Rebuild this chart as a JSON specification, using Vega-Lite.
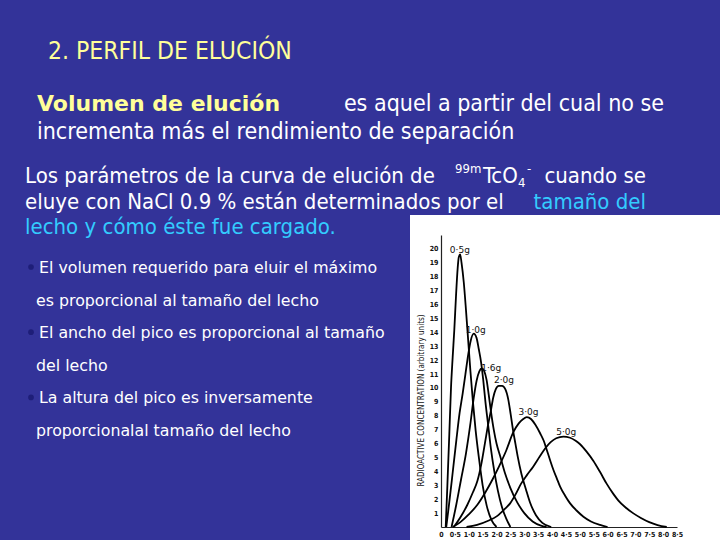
{
  "$schema": "https://vega.github.io/schema/vega-lite/v6.json",
  "background": "#333399",
  "padding": 0,
  "spacing": 0,
  "bounds": "flush",
  "config": {"view": {"stroke": null}, "axis": {"labelOverlap": false, "labelBound": false, "labelFlush": false}, "concat": {"spacing": 0}},
  "datasets": {
    "curves": [
      {"bed":"0.5g","v":0.17,"c":0},{"bed":"0.5g","v":0.23,"c":3},{"bed":"0.5g","v":0.3,"c":6.7},{"bed":"0.5g","v":0.36,"c":10.0},{"bed":"0.5g","v":0.42,"c":12.2},{"bed":"0.5g","v":0.48,"c":14.2},{"bed":"0.5g","v":0.54,"c":16.6},{"bed":"0.5g","v":0.6,"c":18.6},{"bed":"0.5g","v":0.64,"c":19.4},{"bed":"0.5g","v":0.69,"c":19.6},{"bed":"0.5g","v":0.74,"c":19.0},{"bed":"0.5g","v":0.82,"c":17.6},{"bed":"0.5g","v":0.9,"c":15.6},{"bed":"0.5g","v":0.98,"c":13.4},{"bed":"0.5g","v":1.06,"c":11.2},{"bed":"0.5g","v":1.15,"c":9.0},{"bed":"0.5g","v":1.25,"c":6.9},{"bed":"0.5g","v":1.37,"c":4.9},{"bed":"0.5g","v":1.5,"c":3.0},{"bed":"0.5g","v":1.65,"c":1.5},{"bed":"0.5g","v":1.82,"c":0.5},{"bed":"0.5g","v":2.0,"c":0},
      {"bed":"1.0g","v":0.19,"c":0},{"bed":"1.0g","v":0.3,"c":1.8},{"bed":"1.0g","v":0.42,"c":3.9},{"bed":"1.0g","v":0.55,"c":6.2},{"bed":"1.0g","v":0.67,"c":8.2},{"bed":"1.0g","v":0.78,"c":9.6},{"bed":"1.0g","v":0.88,"c":11.0},{"bed":"1.0g","v":0.98,"c":12.4},{"bed":"1.0g","v":1.07,"c":13.4},{"bed":"1.0g","v":1.18,"c":13.9},{"bed":"1.0g","v":1.28,"c":13.6},{"bed":"1.0g","v":1.36,"c":12.8},{"bed":"1.0g","v":1.44,"c":11.9},{"bed":"1.0g","v":1.52,"c":10.6},{"bed":"1.0g","v":1.6,"c":9.0},{"bed":"1.0g","v":1.7,"c":7.3},{"bed":"1.0g","v":1.8,"c":5.6},{"bed":"1.0g","v":1.92,"c":4.0},{"bed":"1.0g","v":2.05,"c":2.6},{"bed":"1.0g","v":2.2,"c":1.4},{"bed":"1.0g","v":2.35,"c":0.6},{"bed":"1.0g","v":2.5,"c":0},
      {"bed":"1.6g","v":0.38,"c":0},{"bed":"1.6g","v":0.55,"c":1.6},{"bed":"1.6g","v":0.72,"c":3.4},{"bed":"1.6g","v":0.9,"c":5.3},{"bed":"1.6g","v":1.05,"c":7.3},{"bed":"1.6g","v":1.18,"c":9.3},{"bed":"1.6g","v":1.28,"c":10.5},{"bed":"1.6g","v":1.38,"c":11.2},{"bed":"1.6g","v":1.47,"c":11.4},{"bed":"1.6g","v":1.56,"c":11.2},{"bed":"1.6g","v":1.64,"c":10.6},{"bed":"1.6g","v":1.72,"c":9.5},{"bed":"1.6g","v":1.8,"c":8.3},{"bed":"1.6g","v":1.9,"c":7.0},{"bed":"1.6g","v":2.0,"c":6.0},{"bed":"1.6g","v":2.13,"c":5.1},{"bed":"1.6g","v":2.3,"c":3.9},{"bed":"1.6g","v":2.5,"c":2.8},{"bed":"1.6g","v":2.75,"c":1.75},{"bed":"1.6g","v":3.0,"c":1.0},{"bed":"1.6g","v":3.3,"c":0.4},{"bed":"1.6g","v":3.6,"c":0.1},{"bed":"1.6g","v":3.8,"c":0},
      {"bed":"2.0g","v":0.46,"c":0},{"bed":"2.0g","v":0.7,"c":0.7},{"bed":"2.0g","v":0.95,"c":1.6},{"bed":"2.0g","v":1.15,"c":2.5},{"bed":"2.0g","v":1.31,"c":3.3},{"bed":"2.0g","v":1.45,"c":4.5},{"bed":"2.0g","v":1.58,"c":6.0},{"bed":"2.0g","v":1.7,"c":7.4},{"bed":"2.0g","v":1.79,"c":8.3},{"bed":"2.0g","v":1.88,"c":9.3},{"bed":"2.0g","v":1.97,"c":9.9},{"bed":"2.0g","v":2.08,"c":10.15},{"bed":"2.0g","v":2.2,"c":10.15},{"bed":"2.0g","v":2.32,"c":9.9},{"bed":"2.0g","v":2.42,"c":9.2},{"bed":"2.0g","v":2.51,"c":8.1},{"bed":"2.0g","v":2.6,"c":6.9},{"bed":"2.0g","v":2.68,"c":6.0},{"bed":"2.0g","v":2.76,"c":5.1},{"bed":"2.0g","v":2.9,"c":3.8},{"bed":"2.0g","v":3.06,"c":2.7},{"bed":"2.0g","v":3.2,"c":1.8},{"bed":"2.0g","v":3.42,"c":0.85},{"bed":"2.0g","v":3.65,"c":0.3},{"bed":"2.0g","v":3.97,"c":0},
      {"bed":"3.0g","v":0.42,"c":0},{"bed":"3.0g","v":0.7,"c":0.35},{"bed":"3.0g","v":1.0,"c":0.9},{"bed":"3.0g","v":1.31,"c":1.6},{"bed":"3.0g","v":1.6,"c":2.5},{"bed":"3.0g","v":1.85,"c":3.4},{"bed":"3.0g","v":2.1,"c":4.4},{"bed":"3.0g","v":2.35,"c":5.5},{"bed":"3.0g","v":2.6,"c":6.8},{"bed":"3.0g","v":2.8,"c":7.45},{"bed":"3.0g","v":2.95,"c":7.75},{"bed":"3.0g","v":3.09,"c":7.9},{"bed":"3.0g","v":3.25,"c":7.75},{"bed":"3.0g","v":3.4,"c":7.35},{"bed":"3.0g","v":3.57,"c":6.74},{"bed":"3.0g","v":3.7,"c":6.2},{"bed":"3.0g","v":3.81,"c":5.54},{"bed":"3.0g","v":3.93,"c":4.8},{"bed":"3.0g","v":4.05,"c":4.1},{"bed":"3.0g","v":4.17,"c":3.5},{"bed":"3.0g","v":4.29,"c":2.9},{"bed":"3.0g","v":4.47,"c":2.25},{"bed":"3.0g","v":4.65,"c":1.7},{"bed":"3.0g","v":4.9,"c":1.15},{"bed":"3.0g","v":5.13,"c":0.74},{"bed":"3.0g","v":5.4,"c":0.4},{"bed":"3.0g","v":5.73,"c":0.15},{"bed":"3.0g","v":6.0,"c":0},
      {"bed":"5.0g","v":0.92,"c":0},{"bed":"5.0g","v":1.3,"c":0.15},{"bed":"5.0g","v":1.7,"c":0.45},{"bed":"5.0g","v":2.03,"c":0.8},{"bed":"5.0g","v":2.3,"c":1.3},{"bed":"5.0g","v":2.49,"c":1.7},{"bed":"5.0g","v":2.7,"c":2.4},{"bed":"5.0g","v":2.88,"c":3.1},{"bed":"5.0g","v":3.1,"c":3.75},{"bed":"5.0g","v":3.32,"c":4.34},{"bed":"5.0g","v":3.55,"c":5.05},{"bed":"5.0g","v":3.75,"c":5.65},{"bed":"5.0g","v":3.95,"c":6.1},{"bed":"5.0g","v":4.15,"c":6.38},{"bed":"5.0g","v":4.41,"c":6.5},{"bed":"5.0g","v":4.65,"c":6.42},{"bed":"5.0g","v":4.85,"c":6.2},{"bed":"5.0g","v":5.01,"c":5.95},{"bed":"5.0g","v":5.25,"c":5.4},{"bed":"5.0g","v":5.49,"c":4.75},{"bed":"5.0g","v":5.73,"c":3.95},{"bed":"5.0g","v":5.97,"c":3.1},{"bed":"5.0g","v":6.2,"c":2.4},{"bed":"5.0g","v":6.39,"c":1.9},{"bed":"5.0g","v":6.65,"c":1.4},{"bed":"5.0g","v":6.93,"c":0.98},{"bed":"5.0g","v":7.2,"c":0.65},{"bed":"5.0g","v":7.5,"c":0.35},{"bed":"5.0g","v":7.8,"c":0.14},{"bed":"5.0g","v":8.13,"c":0}
    ],
    "labels": [
      {"label":"0·5g","v":0.68,"c":19.95},
      {"label":"1·0g","v":1.25,"c":14.2},
      {"label":"1·6g","v":1.81,"c":11.45},
      {"label":"2·0g","v":2.27,"c":10.55},
      {"label":"3·0g","v":3.15,"c":8.25},
      {"label":"5·0g","v":4.51,"c":6.85}
    ]
  },
  "vconcat": [
    {
      "width": 720,
      "height": 215,
      "layer": [
        {
          "data": {"values": [{"line": 1, "text": "2. PERFIL DE ELUCIÓN"}]},
          "mark": {"type": "text", "align": "left", "baseline": "alphabetic", "font": "DejaVu Sans Condensed", "fontSize": 24.5, "color": "#FFFF99"},
          "encoding": {"x": {"value": 48}, "y": {"field": "line", "type": "quantitative", "scale": {"domain": [1, 2, 3, 4, 5, 6], "range": [59, 111, 139, 183, 209, 234], "nice": false, "zero": false}, "axis": null}, "text": {"field": "text"}}
        },
        {
          "data": {"values": [{"line": 2, "text": "Volumen de elución"}]},
          "mark": {"type": "text", "align": "left", "baseline": "alphabetic", "font": "DejaVu Sans", "fontWeight": "bold", "fontSize": 22, "color": "#FFFF99"},
          "encoding": {"x": {"value": 37}, "y": {"field": "line", "type": "quantitative"}, "text": {"field": "text"}}
        },
        {
          "data": {"values": [{"line": 2, "text": "es aquel a partir del cual no se"}]},
          "mark": {"type": "text", "align": "right", "baseline": "alphabetic", "font": "DejaVu Sans Condensed", "fontSize": 23, "color": "white"},
          "encoding": {"x": {"value": 664}, "y": {"field": "line", "type": "quantitative"}, "text": {"field": "text"}}
        },
        {
          "data": {"values": [{"line": 3, "text": "incrementa más el rendimiento de separación"}]},
          "mark": {"type": "text", "align": "left", "baseline": "alphabetic", "font": "DejaVu Sans Condensed", "fontSize": 23, "color": "white"},
          "encoding": {"x": {"value": 37}, "y": {"field": "line", "type": "quantitative"}, "text": {"field": "text"}}
        },
        {
          "data": {"values": [{"line": 4, "text": "Los parámetros de la curva de elución de"}, {"line": 5, "text": "eluye con NaCl 0.9 % están determinados por el"}]},
          "mark": {"type": "text", "align": "left", "baseline": "alphabetic", "font": "DejaVu Sans Condensed", "fontSize": 22, "color": "white"},
          "encoding": {"x": {"value": 25}, "y": {"field": "line", "type": "quantitative"}, "text": {"field": "text"}}
        },
        {
          "data": {"values": [{"line": 4, "text": "99m"}]},
          "mark": {"type": "text", "align": "left", "baseline": "alphabetic", "font": "DejaVu Sans Condensed", "fontSize": 13, "color": "white", "dy": -10},
          "encoding": {"x": {"value": 455}, "y": {"field": "line", "type": "quantitative"}, "text": {"field": "text"}}
        },
        {
          "data": {"values": [{"line": 4, "text": "TcO"}]},
          "mark": {"type": "text", "align": "left", "baseline": "alphabetic", "font": "DejaVu Sans Condensed", "fontSize": 22, "color": "white"},
          "encoding": {"x": {"value": 483}, "y": {"field": "line", "type": "quantitative"}, "text": {"field": "text"}}
        },
        {
          "data": {"values": [{"line": 4, "text": "4"}]},
          "mark": {"type": "text", "align": "left", "baseline": "alphabetic", "font": "DejaVu Sans Condensed", "fontSize": 13, "color": "white", "dy": 4},
          "encoding": {"x": {"value": 518}, "y": {"field": "line", "type": "quantitative"}, "text": {"field": "text"}}
        },
        {
          "data": {"values": [{"line": 4, "text": "-"}]},
          "mark": {"type": "text", "align": "left", "baseline": "alphabetic", "font": "DejaVu Sans Condensed", "fontSize": 13, "color": "white", "dy": -10},
          "encoding": {"x": {"value": 527}, "y": {"field": "line", "type": "quantitative"}, "text": {"field": "text"}}
        },
        {
          "data": {"values": [{"line": 4, "text": "cuando se"}]},
          "mark": {"type": "text", "align": "right", "baseline": "alphabetic", "font": "DejaVu Sans Condensed", "fontSize": 22, "color": "white"},
          "encoding": {"x": {"value": 646}, "y": {"field": "line", "type": "quantitative"}, "text": {"field": "text"}}
        },
        {
          "data": {"values": [{"line": 5, "text": "tamaño del"}]},
          "mark": {"type": "text", "align": "right", "baseline": "alphabetic", "font": "DejaVu Sans Condensed", "fontSize": 22, "color": "#33CCFF"},
          "encoding": {"x": {"value": 646}, "y": {"field": "line", "type": "quantitative"}, "text": {"field": "text"}}
        },
        {
          "data": {"values": [{"line": 6, "text": "lecho y cómo éste fue cargado."}]},
          "mark": {"type": "text", "align": "left", "baseline": "alphabetic", "font": "DejaVu Sans Condensed", "fontSize": 22, "color": "#33CCFF"},
          "encoding": {"x": {"value": 25}, "y": {"field": "line", "type": "quantitative"}, "text": {"field": "text"}}
        }
      ]
    },
    {
      "spacing": 0,
      "bounds": "flush",
      "hconcat": [
        {
          "width": 410,
          "height": 325,
          "layer": [
            {
              "data": {"values": [{"line": 1}, {"line": 3}, {"line": 5}]},
              "mark": {"type": "point", "shape": "circle", "filled": true, "size": 32, "color": "#1e1e78", "opacity": 1, "yOffset": -6},
              "encoding": {"x": {"value": 31}, "y": {"field": "line", "type": "quantitative", "scale": {"domain": [1, 6], "range": [58, 221], "nice": false, "zero": false}, "axis": null}}
            },
            {
              "data": {"values": [{"line": 1, "text": "El volumen requerido para eluir el máximo"}, {"line": 3, "text": "El ancho del pico es proporcional al tamaño"}, {"line": 5, "text": "La altura del pico es inversamente"}]},
              "mark": {"type": "text", "align": "left", "baseline": "alphabetic", "font": "DejaVu Sans", "fontSize": 15.8, "color": "white"},
              "encoding": {"x": {"value": 39}, "y": {"field": "line", "type": "quantitative"}, "text": {"field": "text"}}
            },
            {
              "data": {"values": [{"line": 2, "text": "es proporcional al tamaño del lecho"}, {"line": 4, "text": "del lecho"}, {"line": 6, "text": "proporcionalal tamaño del lecho"}]},
              "mark": {"type": "text", "align": "left", "baseline": "alphabetic", "font": "DejaVu Sans", "fontSize": 15.8, "color": "white"},
              "encoding": {"x": {"value": 36}, "y": {"field": "line", "type": "quantitative"}, "text": {"field": "text"}}
            }
          ]
        },
        {
          "width": 310,
          "height": 325,
          "view": {"fill": "white", "stroke": null},
          "encoding": {
            "x": {"field": "v", "type": "quantitative", "scale": {"domain": [0, 8.5], "range": [31, 267], "nice": false, "zero": false},
              "axis": {"orient": "bottom", "offset": -13, "values": [0, 0.5, 1, 1.5, 2, 2.5, 3, 3.5, 4, 4.5, 5, 5.5, 6, 6.5, 7, 7.5, 8, 8.5], "labelExpr": "datum.value == 0 ? '0' : replace(format(datum.value, '.1f'), '.', '·')", "ticks": false, "grid": false, "domainColor": "#222", "domainWidth": 1.2, "labelFont": "DejaVu Sans Condensed", "labelFontSize": 7, "labelFontWeight": "bold", "labelColor": "#111", "labelPadding": 3, "labelOverlap": false, "labelBound": false, "title": null}},
            "y": {"field": "c", "type": "quantitative", "scale": {"domain": [0, 21], "range": [312, 20], "nice": false, "zero": false},
              "axis": {"orient": "left", "offset": -31, "values": [1, 2, 3, 4, 5, 6, 7, 8, 9, 10, 11, 12, 13, 14, 15, 16, 17, 18, 19, 20], "ticks": false, "grid": false, "domainColor": "#222", "domainWidth": 1.2, "labelFont": "DejaVu Sans Condensed", "labelFontSize": 7, "labelFontWeight": "bold", "labelColor": "#111", "labelPadding": 3, "labelOverlap": false, "labelBound": false, "title": "RADIOACTIVE CONCENTRATION (arbitrary units)", "titleFont": "DejaVu Sans Condensed", "titleFontSize": 8, "titleFontWeight": "normal", "titleColor": "#111", "titlePadding": 4, "titleY": 185}}
          },
          "layer": [
            {
              "data": {"name": "curves"},
              "mark": {"type": "line", "interpolate": "monotone", "color": "black", "strokeWidth": 1.8},
              "encoding": {"detail": {"field": "bed"}}
            },
            {
              "data": {"values": [{}]},
              "mark": {"type": "rule", "color": "#333", "strokeWidth": 1},
              "encoding": {"x": {"datum": 0}, "x2": {"datum": 8.5}, "y": {"datum": 21}}
            },
            {
              "data": {"values": [{}]},
              "mark": {"type": "rule", "color": "#333", "strokeWidth": 1},
              "encoding": {"x": {"datum": 8.5}, "y": {"datum": 0}, "y2": {"datum": 21}}
            },
            {
              "data": {"name": "labels"},
              "mark": {"type": "text", "font": "DejaVu Sans", "fontSize": 9, "color": "#111", "baseline": "middle"},
              "encoding": {"text": {"field": "label"}}
            }
          ]
        }
      ]
    }
  ]
}
